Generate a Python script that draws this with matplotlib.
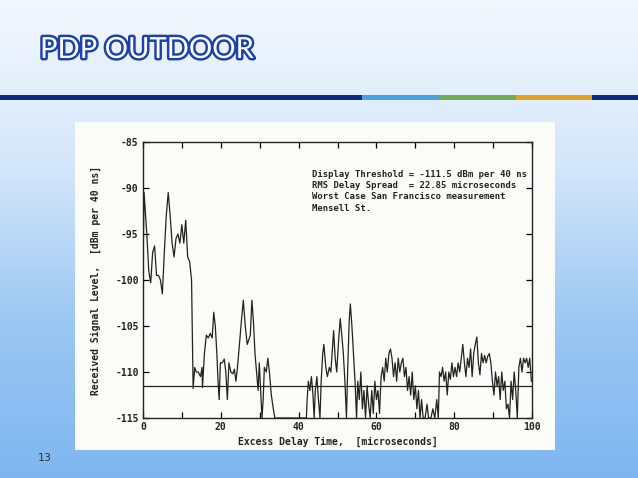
import numpy as np
import matplotlib.pyplot as plt
import matplotlib.patheffects as pe
from matplotlib.patches import Rectangle

# delay (microseconds) and received level (dBm per 40 ns)
delay = [0, 0.3, 1, 1.5, 2, 2.5, 3, 3.5, 4, 4.5, 5, 5.5, 6, 6.5, 7, 7.5, 8, 8.5, 9, 9.5,
         10, 10.5, 11, 11.5, 12, 12.5, 12.9, 13.3, 13.7, 14.2, 14.8, 15.2, 15.3, 15.8, 16.3,
         16.8, 17.3, 17.8, 18.2, 18.6, 19, 19.3, 19.6, 19.9, 20.4, 20.9, 21.3, 21.7, 22.1,
         22.6, 23.1, 23.5, 23.9, 24.3, 24.8, 25.3, 25.8, 26.3, 26.8, 27.2, 27.6, 28, 28.4,
         28.8, 29.2, 29.6, 29.9, 30.3, 30.6, 30.9, 31.2, 31.7, 32.1, 32.5, 33, 33.5, 33.9,
         42, 42.2, 42.5, 42.9, 43.3, 43.7, 44, 44.3, 44.7, 45.1, 45.5, 45.8, 46.2, 46.5, 47,
         47.4, 47.9, 48.3, 48.7, 49, 49.4, 49.8, 50.3, 50.7, 51.1, 51.5, 51.9, 52.3, 52.6,
         53, 53.3, 53.7, 54.1, 54.5, 54.9, 55.2, 55.6, 56, 56.4, 56.8, 57.2, 57.6, 58, 58.4,
         58.8, 59.2, 59.6, 60, 60.4, 60.8, 61.2, 61.6, 62, 62.4, 62.8, 63.2, 63.6, 64, 64.4,
         64.8, 65.2, 65.6, 66, 66.4, 66.8, 67.2, 67.6, 68, 68.4, 68.8, 69.2, 69.6, 70, 70.4,
         70.8, 71.2, 71.6, 72, 72.5, 73, 73.4, 74, 74.5, 75, 75.5, 75.9, 76.2, 76.6, 77,
         77.4, 77.8, 78.2, 78.6, 79, 79.4, 79.8, 80.2, 80.6, 81, 81.4, 81.8, 82.2, 82.6, 83,
         83.4, 83.8, 84.2, 84.6, 85, 85.4, 85.8, 86.2, 86.6, 87, 87.4, 87.8, 88.2, 88.6, 89,
         89.4, 89.8, 90.2, 90.6, 91, 91.4, 91.8, 92.2, 92.6, 93, 93.4, 93.8, 94.2, 94.6, 95,
         95.4, 95.8, 96.2, 96.6, 97, 97.4, 97.8, 98.2, 98.6, 99, 99.4, 99.8]
level = [-99, -90.5, -95, -99, -100.3, -97, -96.3, -99.5, -99.5, -100, -101.5, -97, -93, -90.5,
         -93, -96, -97.5, -95.5, -95, -96, -94, -96, -93.5, -97.5, -98, -100, -111.8, -109.5,
         -110, -110, -110.5, -109.5, -111.7, -108, -106, -106.3, -105.8, -106.3, -103.5, -105,
         -108, -111, -113, -109, -109, -108.6, -110, -113, -109, -110, -110.2, -109.7, -111,
         -109.5, -107, -104.5, -102.2, -105, -107, -106.5, -106, -102.2, -104.5, -108, -110,
         -112, -109, -112.5, -115, -113, -109.5, -110, -108.5, -110, -112.5, -114, -115,
         -115, -113, -111, -112, -110.5, -112.5, -115, -112, -110.5, -113, -115, -111, -108,
         -107, -109.5, -110.5, -109.5, -110, -107.5, -105.5, -108.5, -110, -106.5, -104.2,
         -106, -108, -111, -115, -110, -104.5, -102.6, -105, -108, -111, -115, -111, -113,
         -110, -114, -112, -115, -111.5, -113.5, -115, -112, -114.5, -111, -113, -112,
         -114.5, -110.5, -109.5, -111, -108.5, -110, -108, -107.5, -108.5, -110.5, -109,
         -111, -108.5, -110, -109, -108.5, -110.5, -109.5, -112, -110.5, -112.5, -110, -113,
         -111.5, -114, -112, -115, -113, -115, -115, -113.5, -115, -115, -114, -115, -113,
         -115, -110, -110.5, -109.5, -111, -110, -112.5, -110, -110.8, -109, -110.5, -109.5,
         -110.5, -109, -110, -108.5, -107, -109, -110.5, -108.5, -109.5, -107.5, -110.5,
         -108, -107, -106.2, -109, -110.3, -108, -109, -108.2, -109, -108.3, -108, -109,
         -111, -112.5, -110, -111.5, -110.5, -113, -110, -112, -111, -114, -113.5, -115,
         -111, -113, -110, -112, -115, -109.5, -108.5, -110, -108.5, -109, -108.5, -109.5,
         -108.5, -111]
threshold = -111.5
x_ticks = [0, 20, 40, 60, 80, 100]
y_ticks = [-85, -90, -95, -100, -105, -110, -115]
notes = ["Display Threshold = -111.5 dBm per 40 ns",
         "RMS Delay Spread  = 22.85 microseconds",
         "Worst Case San Francisco measurement",
         "Mensell St."]

fig = plt.figure(figsize=(6.38, 4.78), dpi=100)

# slide background gradient
bg = fig.add_axes([0, 0, 1, 1], zorder=-10)
grad = np.linspace(0, 1, 256).reshape(-1, 1)
bg.imshow(grad, aspect='auto', cmap=plt.matplotlib.colors.LinearSegmentedColormap.from_list(
    'slide', ['#f3f8fe', '#d6e7fa', '#9cc8f3', '#7fb6f0']), extent=[0, 1, 0, 1])
bg.set_xlim(0, 1)
bg.set_ylim(0, 1)
bg.axis('off')

# header stripe
stripe = [(0, 362, '#0b2c82'), (362, 440, '#45a2e3'), (440, 516, '#6db04f'),
          (516, 592, '#e5a21e'), (592, 638, '#0b2c82')]
for x0, x1, c in stripe:
    bg.add_patch(Rectangle((x0 / 638, 1 - 100 / 478), (x1 - x0) / 638, 5 / 478, color=c, lw=0))

bg.text(40 / 638, 1 - 50 / 478, "PDP OUTDOOR", fontsize=21, color='white',
        family='Lato', va='center',
        path_effects=[pe.withStroke(linewidth=3.5, foreground='#1a3fb0')])
bg.text(38 / 638, 1 - 458 / 478, "13", fontsize=8, color='#333333', va='center')

# scanned page
bg.add_patch(Rectangle((75 / 638, 1 - 450 / 478), 480 / 638, 328 / 478, color='#fbfbf8', lw=0))

ax = fig.add_axes([0.224, 0.1255, 0.61, 0.5775])
ax.set_facecolor('none')
ax.plot(delay, level, color='#222222', lw=0.9)
ax.axhline(threshold, color='#222222', lw=0.9)
ax.set_xlim(0, 100)
ax.set_ylim(-115, -85)
ax.set_xticks(x_ticks)
ax.set_yticks(y_ticks)
ax.set_xticks(range(10, 100, 20), minor=True)
mono = dict(family='DejaVu Sans Mono', fontweight='bold', fontsize=7, color='#222222')
ax.set_xticklabels([str(t) for t in x_ticks], **mono)
ax.set_yticklabels([str(t) for t in y_ticks], **mono)
ax.tick_params(direction='in', top=True, right=True, length=4, width=0.9, which='both', pad=3)
for s in ax.spines.values():
    s.set_linewidth(1.0)
    s.set_color('#222222')
ax.set_xlabel("Excess Delay Time,  [microseconds]", labelpad=3, **mono)
ax.set_ylabel("Received Signal Level,  [dBm per 40 ns]", labelpad=10, **mono)
ax.text(0.435, 0.9, "\n".join(notes), transform=ax.transAxes, va='top', ha='left',
        linespacing=1.35, **{**mono, 'fontsize': 6.4})

fig.savefig("out.png", dpi=100)
